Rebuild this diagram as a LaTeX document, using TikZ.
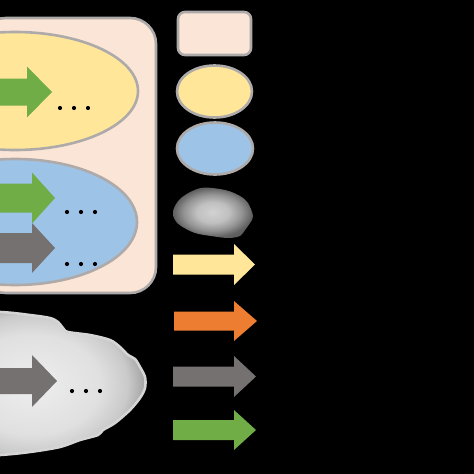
\documentclass[tikz,border=0pt]{standalone}
\usetikzlibrary{calc}
\definecolor{peach}{HTML}{FBE5D6}
\definecolor{lyellow}{HTML}{FFE699}
\definecolor{lblue}{HTML}{9DC3E6}
\definecolor{bordergray}{HTML}{AEAAAA}
\definecolor{agreen}{HTML}{70AD47}
\definecolor{agray}{HTML}{767171}
\definecolor{aorange}{HTML}{ED7D31}
\definecolor{cloudedge}{HTML}{D6D4D4}
\definecolor{bc0}{HTML}{EEEEEE}
\definecolor{bc1}{HTML}{E0E0E0}
\definecolor{bc2}{HTML}{CACACA}
\definecolor{bc3}{HTML}{A2A2A2}
\definecolor{bc4}{HTML}{888888}
\definecolor{sc0}{HTML}{D2D2D2}
\definecolor{sc1}{HTML}{C0C0C0}
\definecolor{sc2}{HTML}{929292}
\definecolor{sc3}{HTML}{626262}
\definecolor{sc4}{HTML}{555555}
\pgfdeclareradialshading{bigcloud}{\pgfpoint{0bp}{0bp}}{color(0bp)=(bc0); color(15bp)=(bc1); color(21bp)=(bc2); color(25bp)=(bc3); color(28bp)=(bc4); color(50bp)=(bc4)}
\pgfdeclareradialshading{smallcloud}{\pgfpoint{0bp}{0bp}}{color(0bp)=(sc0); color(10bp)=(sc1); color(18bp)=(sc2); color(24bp)=(sc3); color(30bp)=(sc4); color(50bp)=(sc4)}
\newcommand{\blockarrow}[7]{%
  \fill[#1] (#2,#5-#6) -- (#3,#5-#6) -- (#3,#5-#7) -- (#4,#5) -- (#3,#5+#7) -- (#3,#5+#6) -- (#2,#5+#6) -- cycle;}
\newcommand{\threedots}[2]{%
  \fill[black] (#1,#2) circle (2.1) (#1+14,#2) circle (2.1) (#1+28,#2) circle (2.1);}
\tikzset{
  outline/.style={draw=bordergray, line width=2.6pt},
}
\begin{document}
\begin{tikzpicture}[x=1pt,y=-1pt]
\useasboundingbox (0,0) rectangle (474,474);
\fill[black] (0,0) rectangle (474,474);
\clip (0,0) rectangle (474,474);
% main container
\draw[outline, fill=peach, rounded corners=26pt] (-20,18) rectangle (156,293);
% yellow ellipse
\draw[outline, fill=lyellow] (15,91) ellipse [x radius=123, y radius=59];
% blue ellipse
\draw[outline, fill=lblue] (15,222) ellipse [x radius=122, y radius=63];
% arrows inside
\blockarrow{agreen}{-10}{27}{52}{92}{13.5}{25.5}
\threedots{60}{108}
\blockarrow{agreen}{-10}{32}{55}{198}{14.5}{25.5}
\threedots{67}{212}
\blockarrow{agray}{-10}{32}{55}{248}{15}{25}
\threedots{67}{264}
% big cloud
\path[shading=bigcloud, draw=cloudedge, line width=2.6pt]
  plot[smooth cycle, tension=0.5] coordinates {(-60,311) (0,312) (30,315) (50,318) (58,322) (63,328) (68,332) (90,335) (110,340) (120,347) (128,355) (135,359) (140,367) (145,377) (145,388) (140,398) (130,410) (115,423) (103,430) (98,435) (80,440) (60,447) (30,452) (0,455) (-60,458) (-80,384)};
\blockarrow{agray}{-10}{32}{57}{381}{13}{26}
\threedots{72}{391}
% legend
\draw[outline, fill=peach, rounded corners=7pt] (178,12) rectangle (251,55);
\draw[outline, fill=lyellow] (214.5,91.5) ellipse [x radius=37.5, y radius=26];
\draw[outline, fill=lblue] (215,148.5) ellipse [x radius=38, y radius=26];
\path[shading=smallcloud]
  plot[smooth cycle, tension=0.55] coordinates {(173,211) (181,198) (201,188) (225,190) (240,196) (248,203) (253,216) (250,223) (245,230) (240,236) (228,238) (211,236) (195,233) (181,226) (175,220)};
\blockarrow{lyellow}{173}{234}{255}{264.5}{10}{20.5}
\blockarrow{aorange}{174}{234}{257}{321}{9.5}{20}
\blockarrow{agray}{173}{234}{256}{376.5}{10}{20.5}
\blockarrow{agreen}{173}{234}{256}{430}{10}{20}
\end{tikzpicture}
\end{document}
